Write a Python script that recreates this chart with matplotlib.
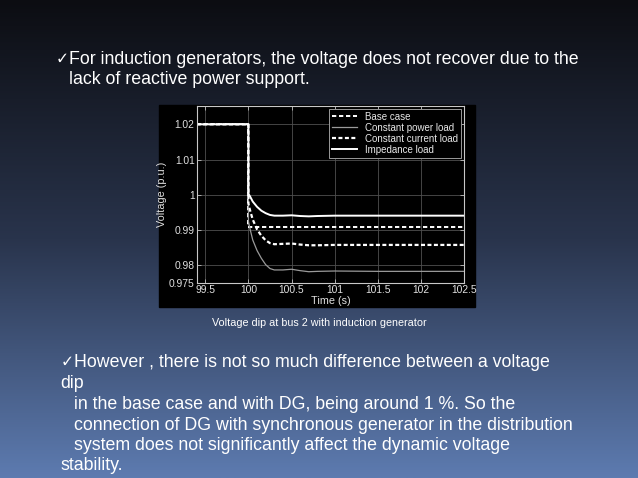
import numpy as np
import matplotlib
matplotlib.use("Agg")
import matplotlib.pyplot as plt
from matplotlib.patches import Rectangle

# ---------------- data ----------------
t = [99.4, 100.0, 100.0, 100.02, 100.05, 100.1, 100.15, 100.2, 100.25, 100.3,
     100.4, 100.5, 100.6, 100.7, 100.8, 101.0, 101.5, 102.0, 102.5]

base_case = [1.02, 1.02, 0.9909, 0.9909, 0.9909, 0.9909, 0.9909, 0.9909, 0.9909, 0.9909,
             0.9909, 0.9909, 0.9909, 0.9909, 0.9909, 0.9909, 0.9909, 0.9909, 0.9909]
const_power = [1.02, 1.02, 0.9925, 0.9902, 0.9872, 0.9842, 0.9820, 0.9802, 0.9791, 0.9787,
               0.9787, 0.9789, 0.9785, 0.9782, 0.9783, 0.9784, 0.9783, 0.9783, 0.9783]
const_current = [1.02, 1.02, 0.9975, 0.9955, 0.9930, 0.9902, 0.9884, 0.9871, 0.9863, 0.9860,
                 0.9861, 0.9862, 0.9859, 0.9857, 0.9857, 0.9858, 0.9858, 0.9858, 0.9858]
impedance = [1.02, 1.02, 1.0003, 0.9995, 0.9981, 0.9966, 0.9955, 0.9948, 0.9943, 0.9941,
             0.9941, 0.9942, 0.9940, 0.9939, 0.9940, 0.9941, 0.9941, 0.9941, 0.9941]

x_ticks = [99.5, 100, 100.5, 101, 101.5, 102, 102.5]
x_labels = ["99.5", "100", "100.5", "101", "101.5", "102", "102.5"]
y_ticks = [0.975, 0.98, 0.99, 1.0, 1.01, 1.02]
y_labels = ["0.975", "0.98", "0.99", "1", "1.01", "1.02"]

top_lines = ["For induction generators, the voltage does not recover due to the",
             "lack of reactive power support."]
caption = "Voltage dip at bus 2 with induction generator"
bottom_lines = ["However , there is not so much difference between a voltage",
                "dip",
                "in the base case and with DG, being around 1 %. So the",
                "connection of DG with synchronous generator in the distribution",
                "system does not significantly affect the dynamic voltage",
                "stability."]

# ---------------- figure ----------------
W, H = 638, 478
plt.rcParams['font.family'] = ['Liberation Sans', 'DejaVu Sans']

def fx(px):
    return px / W

def fy(py):
    return 1 - py / H

fig = plt.figure(figsize=(W / 100, H / 100), dpi=100)

# slide background: dark on top, blue at the bottom
bg = fig.add_axes([0, 0, 1, 1])
stops = np.array([[12, 13, 18], [41, 52, 76], [93, 123, 176]]) / 255.0
pos = np.linspace(0, 1, 256)
grad = np.stack([np.interp(pos, [0, 0.5, 1], stops[:, k]) for k in range(3)], axis=1)
bg.imshow(grad[:, None, :], aspect='auto', extent=[0, 1, 0, 1])
bg.set_xlim(0, 1)
bg.set_ylim(0, 1)
bg.axis('off')

# black picture panel behind the chart
bg.add_patch(Rectangle((fx(159), fy(307)), fx(475) - fx(159), (307 - 105) / H,
                       transform=bg.transAxes, color='black', zorder=3))

# ---------------- chart ----------------
ax = fig.add_axes([fx(196.7), fy(283), (464 - 196.7) / W, (283 - 106) / H])
ax.set_zorder(5)
ax.set_facecolor('black')

ax.plot(t, base_case, color='white', lw=1.4, ls=(0, (2.2, 1.4)), label='Base case')
ax.plot(t, const_power, color='#9a9a9a', lw=0.9, label='Constant power load')
ax.plot(t, const_current, color='white', lw=1.6, ls=(0, (1.8, 1.1)), label='Constant current load')
ax.plot(t, impedance, color='white', lw=1.4, label='Impedance load')

ax.set_xlim(99.4, 102.5)
ax.set_ylim(0.975, 1.0252)
ax.set_xticks(x_ticks)
ax.set_xticklabels(x_labels)
ax.set_yticks(y_ticks)
ax.set_yticklabels(y_labels)
ax.tick_params(direction='in', length=3, width=0.6, colors='#bdbdbd',
               labelcolor='#e0e0e0', labelsize=7.4, top=True, right=True, pad=1.5)
ax.grid(True, color='#505050', lw=0.6)
for s in ax.spines.values():
    s.set_color('#c8c8c8')
    s.set_linewidth(0.8)

ax.set_xlabel('Time (s)', color='#e0e0e0', fontsize=7.8, labelpad=0.5)
ax.set_ylabel('Voltage (p.u.)', color='#e0e0e0', fontsize=7.8, labelpad=1)

leg = ax.legend(loc='upper right', fontsize=7, facecolor='black', edgecolor='#9a9a9a',
                framealpha=1, fancybox=False, labelspacing=0.1, borderpad=0.3,
                handlelength=2.6, handletextpad=0.8, borderaxespad=0.3)
for txt in leg.get_texts():
    txt.set_color('#e8e8e8')
leg.get_frame().set_linewidth(0.7)

# ---------------- slide text ----------------
fs = 12.75
fig.text(fx(56), fy(63.5), "✓", color='white', fontsize=fs - 1.5, va='baseline')
fig.text(fx(69.3), fy(63.5), top_lines[0], color='white', fontsize=fs, va='baseline')
fig.text(fx(69.3), fy(84.5), top_lines[1], color='white', fontsize=fs, va='baseline')

fig.text(fx(319), fy(326), caption, color='white', fontsize=7.75, ha='center', va='baseline')

xs = [74.3, 60.7, 73.5, 74.3, 74.3, 60.7]
ys = [367, 388, 409, 430, 450, 470]
fig.text(fx(60.7), fy(367), "✓", color='white', fontsize=fs - 1.5, va='baseline')
for line, x0, y0 in zip(bottom_lines, xs, ys):
    fig.text(fx(x0), fy(y0), line, color='white', fontsize=fs, va='baseline')

fig.savefig('out.png', dpi=100)
